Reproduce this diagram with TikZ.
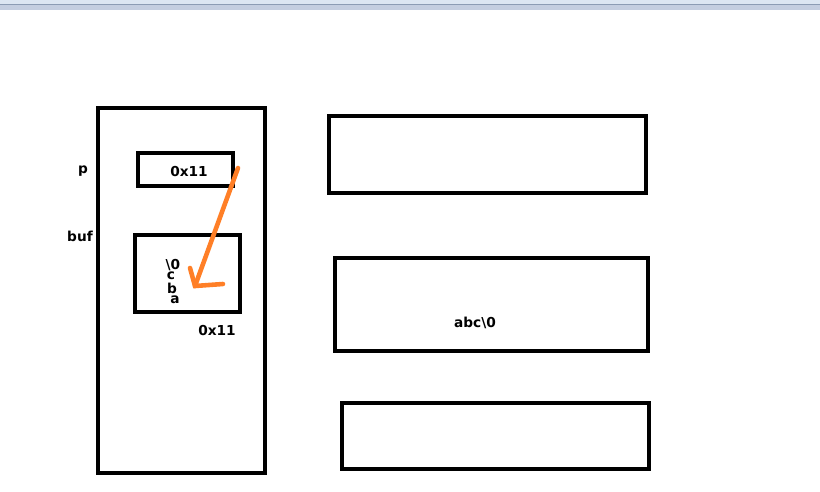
\documentclass[tikz,border=0pt]{standalone}
\usepackage{fontspec}
\setmainfont{DejaVu Sans}
\usetikzlibrary{positioning}
\definecolor{paintorange}{RGB}{255,127,39}
\definecolor{barlight}{RGB}{220,230,242}
\definecolor{barline}{RGB}{140,156,180}
\definecolor{bardark}{RGB}{196,206,224}

\begin{document}
\begin{tikzpicture}[x=0.02cm, y=-0.02cm,
    cell/.style={draw, line width=2.7pt},
    lbl/.style={font=\bfseries\fontsize{7.8}{8}\selectfont, inner sep=0pt},
    ptr/.style={draw=paintorange, line width=2.6pt, line cap=round}]
    \useasboundingbox (0,0) rectangle (820,492);
    % window bar at the top
    \fill[barlight] (0,0) rectangle (820,4);
    \fill[barline] (0,4) rectangle (820,5.5);
    \fill[bardark] (0,5.5) rectangle (820,10);
    % stack frame
    \draw[cell] (98,108) rectangle (265,473);
    \draw[cell] (138,153) rectangle (233,186);
    \draw[cell] (135,235) rectangle (240,312);
    % the other blocks
    \draw[cell] (329,116) rectangle (646,193);
    \draw[cell] (335,258) rectangle (648,351);
    \draw[cell] (342,403) rectangle (649,469);
    % labels
    \node[lbl] (p) at (83,171) {p};
    \node[lbl] (buf) at (80,236) {buf};
    \node[lbl] (pval) at (189,172) {0x11};
    \node[lbl] (nul) at (173,265) {\textbackslash 0};
    \node[lbl] (c) at (171,276) {c};
    \node[lbl] (b) at (172,288) {b};
    \node[lbl] (a) at (175,300) {a};
    \node[lbl] (bufaddr) at (217,331) {0x11};
    \node[lbl] (str) at (475,323) {abc\textbackslash 0};
    % pointer from p into buf
    \coordinate (ptail) at (238,168);
    \coordinate (ptip) at (195,286);
    \coordinate (barbup) at (190,268);
    \coordinate (barbright) at (223,284);
    \draw[ptr] (ptail) -- (ptip);
    \draw[ptr] (barbup) -- (ptip) -- (barbright);
\end{tikzpicture}
\end{document}
